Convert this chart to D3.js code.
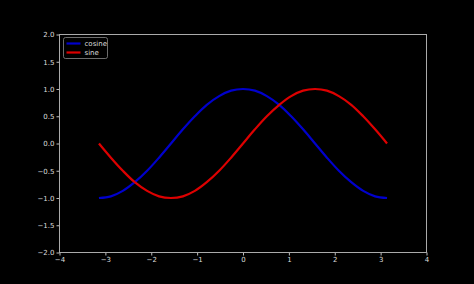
<!DOCTYPE html>
<html>
<head>
<meta charset="utf-8">
<script src="https://cdn.jsdelivr.net/npm/d3@7"></script>
<style>
  body { margin: 0; background: #000; }
  svg { display: block; font-family: "DejaVu Sans", sans-serif; }
</style>
</head>
<body>
<svg width="474" height="284"></svg>
<script>
var xs = [-3.14, -2.88, -2.62, -2.36, -2.09, -1.83, -1.57, -1.31, -1.05, -0.79, -0.52, -0.26, 0,
          0.26, 0.52, 0.79, 1.05, 1.31, 1.57, 1.83, 2.09, 2.36, 2.62, 2.88, 3.14];
var cosine = [-1.00, -0.97, -0.87, -0.71, -0.50, -0.26, 0.00, 0.26, 0.50, 0.71, 0.87, 0.97, 1.00,
              0.97, 0.87, 0.71, 0.50, 0.26, 0.00, -0.26, -0.50, -0.71, -0.87, -0.97, -1.00];
var sine = [0.00, -0.26, -0.50, -0.71, -0.87, -0.97, -1.00, -0.97, -0.87, -0.71, -0.50, -0.26, 0.00,
            0.26, 0.50, 0.71, 0.87, 0.97, 1.00, 0.97, 0.87, 0.71, 0.50, 0.26, 0.00];
var xTicks = [-4, -3, -2, -1, 0, 1, 2, 3, 4];
var yTicks = [-2.0, -1.5, -1.0, -0.5, 0.0, 0.5, 1.0, 1.5, 2.0];
var seriesNames = ["cosine", "sine"];
var seriesColors = ["#0000cc", "#dd0000"];

var svg = d3.select("svg"),
    margin = {left: 59.5, right: 47.5, top: 34.5, bottom: 31.5},
    width = 474 - margin.left - margin.right,
    height = 284 - margin.top - margin.bottom;

var x = d3.scaleLinear().domain([-4, 4]).range([margin.left, margin.left + width]);
var y = d3.scaleLinear().domain([-2, 2]).range([margin.top + height, margin.top]);

var fmt = function (d) { return d3.format(".1f")(d).replace("-", "\u2212"); };
var fmtX = function (d) { return String(d).replace("-", "\u2212"); };

var xAxis = svg.append("g")
    .attr("transform", "translate(0," + (margin.top + height) + ")")
    .call(d3.axisBottom(x).tickValues(xTicks).tickFormat(fmtX).tickSize(3).tickPadding(2));
var yAxis = svg.append("g")
    .attr("transform", "translate(" + margin.left + ",0)")
    .call(d3.axisLeft(y).tickValues(yTicks).tickFormat(fmt).tickSize(3).tickPadding(2));

[xAxis, yAxis].forEach(function (a) {
    a.select(".domain").remove();
    a.selectAll("line").attr("stroke", "#bbb");
    a.selectAll("text").attr("fill", "#ddd").style("font-size", "7px").style("font-family", "DejaVu Sans");
});

// frame
svg.append("rect")
    .attr("x", margin.left).attr("y", margin.top)
    .attr("width", width).attr("height", height)
    .attr("fill", "none").attr("stroke", "#aaa").attr("stroke-width", 1);

var line = d3.line().curve(d3.curveCatmullRom)
    .x(function (d) { return x(d[0]); })
    .y(function (d) { return y(d[1]); });

[cosine, sine].forEach(function (vals, i) {
    svg.append("path")
        .datum(xs.map(function (v, j) { return [v, vals[j]]; }))
        .attr("d", line)
        .attr("fill", "none")
        .attr("stroke", seriesColors[i])
        .attr("stroke-width", 2.2);
});

// legend
var legend = svg.append("g").attr("transform", "translate(63.5,37.5)");
legend.append("rect")
    .attr("width", 44).attr("height", 21).attr("rx", 2)
    .attr("fill", "#000").attr("stroke", "#888").attr("stroke-width", 0.8);
seriesNames.forEach(function (name, i) {
    var row = legend.append("g").attr("transform", "translate(0," + (6 + i * 9) + ")");
    row.append("line")
        .attr("x1", 3).attr("x2", 17)
        .attr("stroke", seriesColors[i]).attr("stroke-width", 2.2);
    row.append("text")
        .attr("x", 21).attr("y", 2.5)
        .attr("fill", "#ddd").style("font-size", "7px")
        .text(name);
});
</script>
</body>
</html>
